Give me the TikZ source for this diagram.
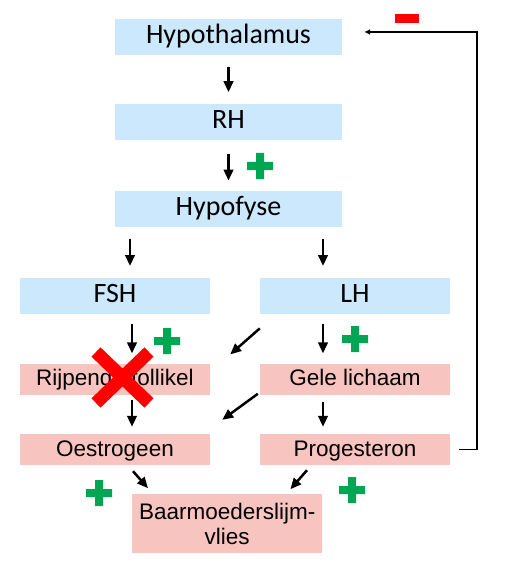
\documentclass[tikz,border=0pt]{standalone}
\usepackage{fontspec}
\setmainfont{Liberation Sans}
\newfontfamily\calibri{Carlito}
\usetikzlibrary{positioning,arrows.meta}
\definecolor{boxblue}{RGB}{204,232,252}
\definecolor{boxpink}{RGB}{248,196,192}
\definecolor{plusgreen}{RGB}{0,166,81}
\definecolor{crossred}{RGB}{255,0,0}
\tikzset{
  hormone/.style={fill=boxblue,inner sep=0pt,minimum height=36pt,minimum width=190pt,
    font=\calibri\fontsize{28}{30}\selectfont,text height=19pt,text depth=6pt},
  organ/.style={fill=boxpink,inner sep=0pt,minimum height=31pt,minimum width=190pt,
    font=\fontsize{22.5}{25}\selectfont,text height=17pt,text depth=4pt},
  arrow/.style={draw,line width=2.5pt,shorten <=12pt,shorten >=12pt,-{Triangle[length=11pt,width=9.5pt]}},
  feedback/.style={draw,line width=1.7pt,-{Latex[length=6pt,width=6pt]}},
  plussign/.pic={\fill[plusgreen] (-13pt,-4pt) rectangle (13pt,4pt) (-4pt,-13pt) rectangle (4pt,13pt);}
}
\begin{document}
\begin{tikzpicture}[x=1pt,y=-1pt]
\useasboundingbox (0,0) rectangle (510,564);
\node[hormone,minimum width=227pt](hypothal) at (228.5,37){Hypothalamus};
\node[hormone,minimum width=227pt,below=49pt of hypothal](rh){RH};
\node[hormone,minimum width=227pt,below=50pt of rh](hypofyse){Hypofyse};

\node[hormone,below=51pt of hypofyse,xshift=-113.5pt](fsh){FSH};
\node[hormone,below=51pt of hypofyse,xshift=126.5pt](lh){LH};

\node[organ,below=49pt of fsh](rijp){Rijpende follikel};
\node[organ,below=49pt of lh](gele){Gele lichaam};
\node[organ,below=39pt of rijp](oestro){Oestrogeen};
\node[organ,below=39pt of gele](proges){Progesteron};
\node[organ,anchor=north west,minimum height=59pt,text width=190pt,align=center,
  text height=,text depth=,below right=29pt and 17pt of oestro.south](baar){Baarmoederslijm-\\vlies};

\path[arrow](hypothal)--(rh);
\path[arrow,shorten <=13pt,shorten >=10pt](rh)--(hypofyse);
\path[arrow]([xshift=15pt]fsh.north|-hypofyse.south)--([xshift=15pt]fsh.north);
\path[arrow]([xshift=-32pt]lh.north|-hypofyse.south)--([xshift=-32pt]lh.north);
\path[arrow,shorten <=10pt,shorten >=10pt]([xshift=17pt]fsh.south)--([xshift=17pt]rijp.north);
\path[arrow,shorten <=10pt,shorten >=10pt]([xshift=-32pt]lh.south)--([xshift=-32pt]gele.north);
\path[arrow,shorten <=5pt,shorten >=7pt]([xshift=17pt]rijp.south)--([xshift=17pt]oestro.north);
\path[arrow,shorten <=7pt,shorten >=7pt]([xshift=-32pt]gele.south)--([xshift=-32pt]proges.north);

\path[arrow,shorten <=0pt,shorten >=0pt]([yshift=-14pt]lh.south west)--([shift={(20pt,9pt)}]rijp.north east);
\path[arrow,shorten <=0pt,shorten >=0pt]([shift={(-2pt,1pt)}]gele.south west)--([shift={(12pt,14pt)}]oestro.north east);
\path[arrow,shorten <=0pt,shorten >=0pt]([shift={(18pt,-6pt)}]oestro.south)--([shift={(16pt,6pt)}]baar.north west);
\path[arrow,shorten <=0pt,shorten >=0pt]([shift={(-48pt,-5pt)}]proges.south)--([shift={(-32pt,5pt)}]baar.north east);

\path[feedback]([xshift=9pt]proges.east)--++(18pt,0)|-([shift={(22pt,5pt)}]hypothal.east);
\fill[crossred](395,14)rectangle(419,23);

\pic at (260,166){plussign};
\pic at (167,341){plussign};
\pic at (355,339){plussign};
\pic at (99,493){plussign};
\pic at (352,490){plussign};

\draw[crossred,line width=13pt](96,352)--(149,403)(149,352)--(96,403);
\end{tikzpicture}
\end{document}
